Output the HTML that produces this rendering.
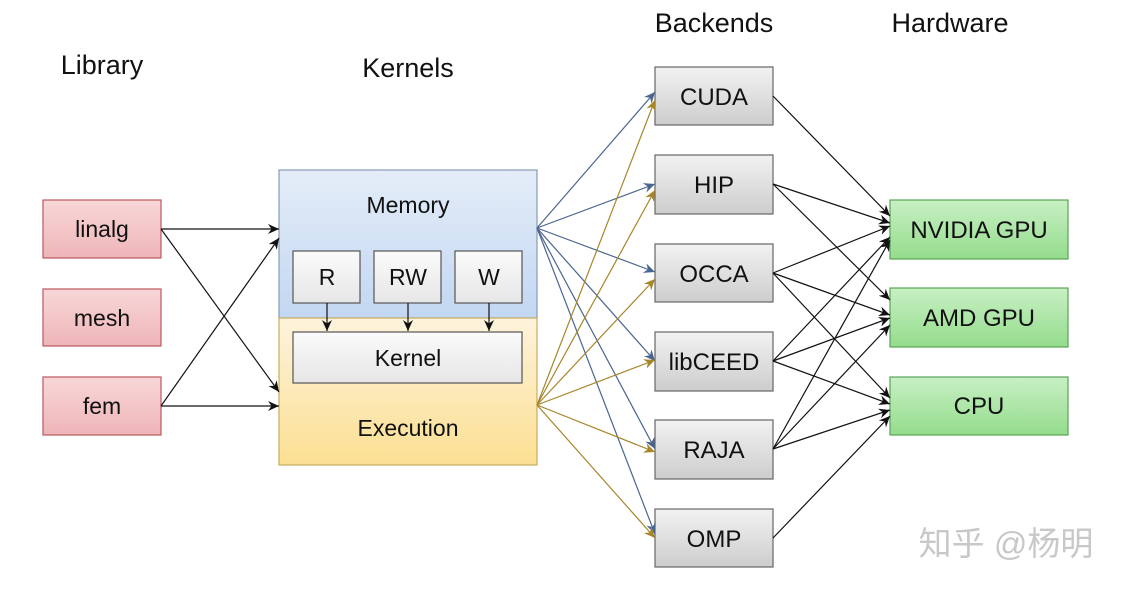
<!DOCTYPE html>
<html><head><meta charset="utf-8"><style>
body{margin:0;background:#fff;}
svg text{font-family:"Liberation Sans","Noto Sans CJK SC",sans-serif;fill:#111;}
</style></head><body>
<svg width="1123" height="591" viewBox="0 0 1123 591" xmlns="http://www.w3.org/2000/svg">
<defs>
<linearGradient id="red" x1="0" y1="0" x2="0" y2="1"><stop offset="0" stop-color="#f8d7d8"/><stop offset="1" stop-color="#eeb5b8"/></linearGradient>
<linearGradient id="gray" x1="0" y1="0" x2="0" y2="1"><stop offset="0" stop-color="#f2f2f2"/><stop offset="1" stop-color="#cdcdcd"/></linearGradient>
<linearGradient id="green" x1="0" y1="0" x2="0" y2="1"><stop offset="0" stop-color="#c8f0c4"/><stop offset="1" stop-color="#94dc8c"/></linearGradient>
<linearGradient id="blue" x1="0" y1="0" x2="0" y2="1"><stop offset="0" stop-color="#e4edf8"/><stop offset="1" stop-color="#c2d7f2"/></linearGradient>
<linearGradient id="yel" x1="0" y1="0" x2="0" y2="1"><stop offset="0" stop-color="#fdf3dc"/><stop offset="1" stop-color="#fbdf92"/></linearGradient>
<linearGradient id="wh" x1="0" y1="0" x2="0" y2="1"><stop offset="0" stop-color="#fbfbfb"/><stop offset="1" stop-color="#e6e6e6"/></linearGradient>
<marker id="ak" markerWidth="12" markerHeight="10" refX="11" refY="5" orient="auto" markerUnits="userSpaceOnUse"><path d="M0,0 L11,5 L0,10 L3.5,5 z" fill="#111"/></marker>
<marker id="ab" markerWidth="12" markerHeight="10" refX="11" refY="5" orient="auto" markerUnits="userSpaceOnUse"><path d="M0,0 L11,5 L0,10 L3.5,5 z" fill="#4a6590"/></marker>
<marker id="ay" markerWidth="12" markerHeight="10" refX="11" refY="5" orient="auto" markerUnits="userSpaceOnUse"><path d="M0,0 L11,5 L0,10 L3.5,5 z" fill="#a7862a"/></marker>
</defs>
<g font-size="27" text-anchor="middle"><text x="102" y="74">Library</text><text x="408" y="77">Kernels</text><text x="714" y="32">Backends</text><text x="950" y="32">Hardware</text></g>

<rect x="279" y="170" width="258" height="148" fill="url(#blue)" stroke="#8a9ab5" stroke-width="1.2"/>
<rect x="279" y="318" width="258" height="147" fill="url(#yel)" stroke="#c9ad5f" stroke-width="1.2"/>
<g font-size="23" text-anchor="middle">
<text x="408" y="213">Memory</text><text x="408" y="436">Execution</text></g>
<g stroke="#555" stroke-width="1.2" fill="url(#wh)">
<rect x="293" y="251" width="67" height="52"/><rect x="374" y="251" width="67" height="52"/><rect x="455" y="251" width="67" height="52"/>
<rect x="293" y="332" width="229" height="51"/></g>
<g font-size="23" text-anchor="middle"><text x="327" y="285">R</text><text x="408" y="285">RW</text><text x="489" y="285">W</text><text x="408" y="366">Kernel</text></g>
<g stroke="#111" stroke-width="1.2" marker-end="url(#ak)">
<line x1="327" y1="303" x2="327" y2="331"/><line x1="408" y1="303" x2="408" y2="331"/><line x1="489" y1="303" x2="489" y2="331"/></g>

<g stroke="#b9595f" stroke-width="1.2" fill="url(#red)">
<rect x="43" y="200" width="118" height="58"/><rect x="43" y="289" width="118" height="57"/><rect x="43" y="377" width="118" height="58"/></g>
<g font-size="23" text-anchor="middle"><text x="102" y="237">linalg</text><text x="102" y="326">mesh</text><text x="102" y="414">fem</text></g>
<g stroke="#111" stroke-width="1.2" marker-end="url(#ak)">
<line x1="161" y1="229" x2="279" y2="229"/><line x1="161" y1="229" x2="279" y2="392"/>
<line x1="161" y1="406" x2="279" y2="406"/><line x1="161" y1="406" x2="279" y2="238"/></g>

<g stroke="#666" stroke-width="1.2" fill="url(#gray)">
<rect x="655" y="67" width="118" height="58"/><rect x="655" y="155" width="118" height="59"/><rect x="655" y="244" width="118" height="58"/>
<rect x="655" y="332" width="118" height="59"/><rect x="655" y="420" width="118" height="59"/><rect x="655" y="509" width="118" height="58"/></g>
<g font-size="24" text-anchor="middle"><text x="714" y="105">CUDA</text><text x="714" y="193">HIP</text><text x="714" y="282">OCCA</text><text x="714" y="370">libCEED</text><text x="714" y="458">RAJA</text><text x="714" y="547">OMP</text></g>

<g stroke="#4a6590" stroke-width="1.2" marker-end="url(#ab)">
<line x1="537" y1="228" x2="655" y2="92"/><line x1="537" y1="228" x2="655" y2="184"/><line x1="537" y1="228" x2="655" y2="272"/>
<line x1="537" y1="228" x2="655" y2="361"/><line x1="537" y1="228" x2="655" y2="449"/><line x1="537" y1="228" x2="655" y2="534"/></g>
<g stroke="#a7862a" stroke-width="1.2" marker-end="url(#ay)">
<line x1="537" y1="405" x2="655" y2="100"/><line x1="537" y1="405" x2="655" y2="190"/><line x1="537" y1="405" x2="655" y2="279"/>
<line x1="537" y1="405" x2="655" y2="360"/><line x1="537" y1="405" x2="655" y2="452"/><line x1="537" y1="405" x2="655" y2="538"/></g>

<g stroke="#5aa257" stroke-width="1.2" fill="url(#green)">
<rect x="890" y="200" width="178" height="59"/><rect x="890" y="288" width="178" height="59"/><rect x="890" y="377" width="178" height="58"/></g>
<g font-size="24" text-anchor="middle"><text x="979" y="238">NVIDIA GPU</text><text x="979" y="326">AMD GPU</text><text x="979" y="414">CPU</text></g>
<g stroke="#111" stroke-width="1.2" marker-end="url(#ak)">
<line x1="773" y1="96" x2="890" y2="216"/>
<line x1="773" y1="184" x2="890" y2="223"/><line x1="773" y1="184" x2="890" y2="300"/>
<line x1="773" y1="273" x2="890" y2="226"/><line x1="773" y1="273" x2="890" y2="315"/><line x1="773" y1="273" x2="890" y2="398"/>
<line x1="773" y1="361" x2="890" y2="237"/><line x1="773" y1="361" x2="890" y2="318"/><line x1="773" y1="361" x2="890" y2="404"/>
<line x1="773" y1="449" x2="890" y2="240"/><line x1="773" y1="449" x2="890" y2="325"/><line x1="773" y1="449" x2="890" y2="410"/>
<line x1="773" y1="538" x2="890" y2="416"/></g>

<text x="1006" y="555" font-size="33" text-anchor="middle" style="fill:#c8c8c8">知乎 @杨明</text>
</svg>
</body></html>
